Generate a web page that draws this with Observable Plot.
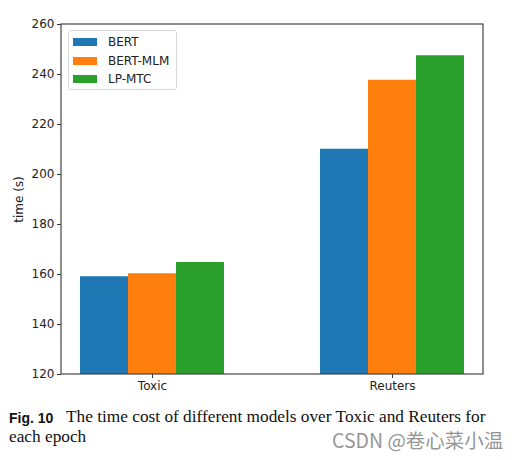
<!DOCTYPE html>
<html>
<head>
<meta charset="utf-8">
<script src="https://cdn.jsdelivr.net/npm/d3@7"></script>
<script src="https://cdn.jsdelivr.net/npm/@observablehq/plot@0.6"></script>
<style>
  body { margin: 0; background: #fff; width: 518px; height: 460px; overflow: hidden; position: relative; }
  #chart { position: absolute; left: 0; top: 0; }
  #legend { position: absolute; left: 68px; top: 30px; width: 109px; height: 60px; box-sizing: border-box;
            border: 1px solid #d8d8d8; border-radius: 3px; background: rgba(255,255,255,0.9);
            font-family: "DejaVu Sans", sans-serif; font-size: 12px; color: #222; }
  .row { position: absolute; left: 4px; height: 14px; display: flex; align-items: center; }
  .sw { width: 24px; height: 8px; margin-right: 11px; }
  .cap { position: absolute; font-family: "Liberation Serif", serif; font-size: 17.3px; line-height: 20px;
         color: #111; white-space: nowrap; }
  #figlabel { position: absolute; left: 9px; top: 408px; font-family: "Liberation Sans", sans-serif; font-weight: bold;
              font-size: 14px; line-height: 20px; color: #111; white-space: nowrap; }
  #wm { position: absolute; left: 332px; top: 430px; font-family: "Noto Sans CJK SC", sans-serif; font-size: 19.5px;
        line-height: 20px; color: rgba(120,120,120,0.8); white-space: nowrap; }
</style>
</head>
<body>
<div id="chart"></div>
<div id="legend"></div>
<span id="figlabel">Fig. 10</span>
<span class="cap" style="left:66px; top:407px;">The time cost of different models over Toxic and Reuters for</span>
<span class="cap" style="left:9px; top:427px;">each epoch</span>
<div id="wm">CSDN @卷心菜小温</div>
<script>
const datasets = ["Toxic", "Reuters"];
const models = ["BERT", "BERT-MLM", "LP-MTC"];
const colors = ["#1f77b4", "#ff7f0e", "#2ca02c"];
const bertTimes = [159.1, 210.1];
const bertMlmTimes = [160.3, 237.7];
const lpMtcTimes = [164.8, 247.5];
const yTicks = [120, 140, 160, 180, 200, 220, 240, 260];

const series = [bertTimes, bertMlmTimes, lpMtcTimes];
const data = [];
datasets.forEach((ds, i) => models.forEach((m, j) => data.push({dataset: ds, model: m, value: series[j][i]})));

const W = 518, H = 400, mL = 61, mR = 35, mT = 24, mB = 26;
const chart = Plot.plot({
  width: W,
  height: H,
  marginLeft: mL,
  marginRight: mR,
  marginTop: mT,
  marginBottom: mB,
  style: {fontFamily: "DejaVu Sans, sans-serif", fontSize: "12px", color: "#222", background: "transparent"},
  fx: {domain: datasets, paddingInner: 0.2417, paddingOuter: 0, round: false, label: null},
  x: {domain: models, paddingInner: 0, paddingOuter: 0.396, round: false, axis: null},
  y: {domain: [yTicks[0], yTicks[yTicks.length - 1]]},
  color: {domain: models, range: colors},
  marks: [
    Plot.barY(data, {fx: "dataset", x: "model", y: "value", fill: "model", clip: true}),
    Plot.axisFx({anchor: "bottom", tickSize: 4, tickPadding: 3, label: null, stroke: "#333"}),
    Plot.axisY({ticks: yTicks, tickSize: 4, tickPadding: 3, label: "time (s)", labelAnchor: "center", labelArrow: "none", labelOffset: 47, stroke: "#333"})
  ]
});
d3.select(chart).append("rect")
  .attr("x", mL).attr("y", mT)
  .attr("width", W - mL - mR).attr("height", H - mT - mB)
  .attr("fill", "none").attr("stroke", "#444").attr("stroke-width", 1.2);
document.getElementById("chart").appendChild(chart);

const legend = document.getElementById("legend");
models.forEach((m, j) => {
  const row = document.createElement("div");
  row.className = "row";
  row.style.top = (4 + j * 18.5) + "px";
  const sw = document.createElement("div");
  sw.className = "sw";
  sw.style.background = colors[j];
  row.appendChild(sw);
  row.appendChild(document.createTextNode(m));
  legend.appendChild(row);
});
</script>
</body>
</html>
